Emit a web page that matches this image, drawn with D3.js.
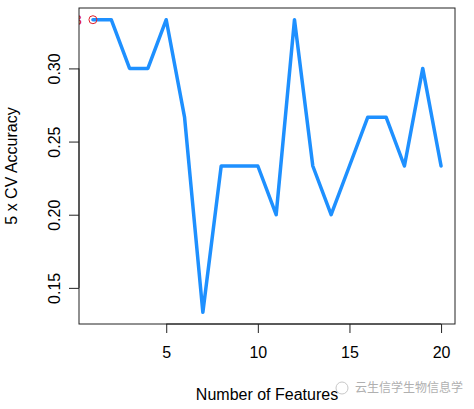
<!DOCTYPE html>
<html>
<head>
<meta charset="utf-8">
<script src="https://cdn.jsdelivr.net/npm/d3@7"></script>
<style>
  body { margin: 0; background: #fff; }
  text { font-family: "Liberation Sans", Arial, sans-serif; }
</style>
</head>
<body>
<script>
// number of features vs 5-fold CV accuracy
var features = [1, 2, 3, 4, 5, 6, 7, 8, 9, 10, 11, 12, 13, 14, 15, 16, 17, 18, 19, 20];
var accuracy = [0.3333, 0.3333, 0.3, 0.3, 0.3333, 0.2667, 0.1333, 0.2333, 0.2333, 0.2333,
                0.2, 0.3333, 0.2333, 0.2, 0.2333, 0.2667, 0.2667, 0.2333, 0.3, 0.2333];
var xTicks = [5, 10, 15, 20];
var yTicks = [0.15, 0.20, 0.25, 0.30];
var best = {n: 1, acc: 0.3333, label: "3"};

var W = 474, H = 409;
var pLeft = 79, pRight = 455, pTop = 8, pBottom = 324;

var canvas = d3.select("body")
    .append("svg")
    .attr("width", W)
    .attr("height", H);

// R style 4% padding on each axis
var xPad = (20 - 1) * 0.04, yPad = (0.3333 - 0.1333) * 0.04;
var x = d3.scaleLinear().domain([1 - xPad, 20 + xPad]).range([pLeft, pRight]);
var y = d3.scaleLinear().domain([0.1333 - yPad, 0.3333 + yPad]).range([pBottom, pTop]);

canvas.append("defs").append("clipPath")
    .attr("id", "plotclip")
    .append("rect")
    .attr("x", pLeft).attr("y", pTop)
    .attr("width", pRight - pLeft).attr("height", pBottom - pTop);

var pts = features.map(function (d, i) { return {n: d, acc: accuracy[i]}; });

var line = d3.line()
    .x(function (d) { return x(d.n); })
    .y(function (d) { return y(d.acc); });

var plot = canvas.append("g").attr("clip-path", "url(#plotclip)");

plot.append("path")
    .datum(pts)
    .attr("d", line)
    .attr("fill", "none")
    .attr("stroke", "#1E90FF")
    .attr("stroke-width", 3.5)
    .attr("stroke-linejoin", "round")
    .attr("stroke-linecap", "round");

plot.append("circle")
    .attr("cx", x(best.n))
    .attr("cy", y(best.acc))
    .attr("r", 4)
    .attr("fill", "none")
    .attr("stroke", "#e0202a")
    .attr("stroke-width", 1);

plot.append("text")
    .attr("x", x(best.n) - 11)
    .attr("y", y(best.acc) + 5)
    .attr("text-anchor", "end")
    .attr("fill", "#e0202a")
    .style("font-size", "15px")
    .text(best.label);

// box
canvas.append("rect")
    .attr("x", pLeft).attr("y", pTop)
    .attr("width", pRight - pLeft).attr("height", pBottom - pTop)
    .attr("fill", "none")
    .attr("stroke", "#222")
    .attr("stroke-width", 1);

// x axis
var xAxis = canvas.append("g")
    .attr("transform", "translate(0," + pBottom + ")")
    .call(d3.axisBottom(x).tickValues(xTicks).tickSize(9).tickPadding(14));
xAxis.select(".domain").attr("d", "M" + x(5) + ",0H" + x(20)).attr("stroke", "#222");
xAxis.selectAll(".tick line").attr("stroke", "#222");
xAxis.selectAll("text")
    .style("font-size", "16px")
    .style("font-family", "Liberation Sans, Arial, sans-serif")
    .attr("fill", "#000");

// y axis
var yAxis = canvas.append("g")
    .attr("transform", "translate(" + pLeft + ",0)")
    .call(d3.axisLeft(y).tickValues(yTicks).tickSize(10).tickFormat(d3.format(".2f")));
yAxis.select(".domain").attr("d", "M0," + y(0.15) + "V" + y(0.30)).attr("stroke", "#222");
yAxis.selectAll(".tick line").attr("stroke", "#222");
yAxis.selectAll("text")
    .attr("x", 0)
    .attr("y", 0)
    .attr("transform", "translate(-25,0) rotate(-90)")
    .attr("text-anchor", "middle")
    .attr("dy", "0.35em")
    .style("font-size", "16px")
    .style("font-family", "Liberation Sans, Arial, sans-serif")
    .attr("fill", "#000");

// axis titles
canvas.append("text")
    .attr("x", (pLeft + pRight) / 2)
    .attr("y", 400)
    .attr("text-anchor", "middle")
    .style("font-size", "16px")
    .text("Number of Features");

canvas.append("text")
    .attr("transform", "translate(17," + (pTop + pBottom) / 2 + ") rotate(-90)")
    .attr("text-anchor", "middle")
    .style("font-size", "16px")
    .text("5 x CV Accuracy");

// watermark
canvas.append("text")
    .attr("x", 355)
    .attr("y", 392)
    .attr("fill", "#b0b0b0")
    .style("font-family", "Noto Sans CJK SC")
    .style("font-size", "12px")
    .text("云生信学生物信息学");
canvas.append("circle")
    .attr("cx", 342).attr("cy", 388).attr("r", 6)
    .attr("fill", "none").attr("stroke", "#c8c8c8").attr("stroke-width", 1);
</script>
</body>
</html>
